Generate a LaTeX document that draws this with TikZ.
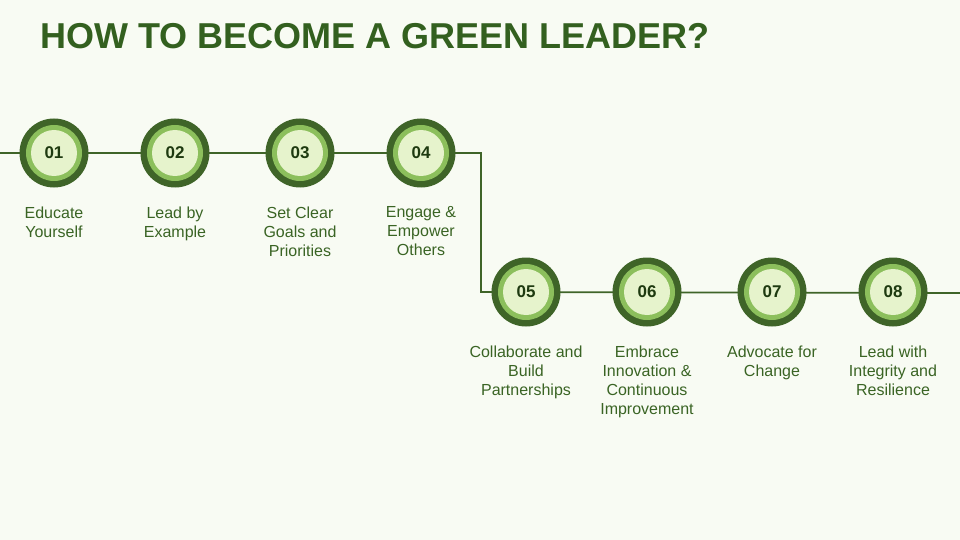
\documentclass[tikz,border=0pt]{standalone}
\usepackage{fontspec}
\setmainfont{Liberation Sans}
\begin{document}
\begin{tikzpicture}[x=1pt,y=-1pt,
  ring/.style={circle,fill=ringdark,minimum size=69pt,inner sep=0pt},
  mid/.style={circle,fill=ringmid,minimum size=56pt,inner sep=0pt},
  core/.style={circle,fill=ringcore,minimum size=46pt,inner sep=0pt,font=\fontsize{17}{17}\selectfont\bfseries,text=numcol},
  lbl/.style={align=center,anchor=north,font=\fontsize{16}{19}\selectfont,text=labcol},
  conn/.style={draw=ringdark,line width=1.8pt}]
\definecolor{ringdark}{HTML}{3F6428}
\definecolor{ringmid}{HTML}{8CBF5C}
\definecolor{ringcore}{HTML}{E6F3CC}
\definecolor{numcol}{HTML}{1E3A10}
\definecolor{labcol}{HTML}{3A6424}
\definecolor{titcol}{HTML}{33601F}
\definecolor{bg}{HTML}{F8FBF3}
\fill[bg] (0,0) rectangle (960,540);
\useasboundingbox (0,0) rectangle (960,540);
\node[anchor=west,text=titcol,font=\fontsize{36}{36}\selectfont\bfseries] (title) at (37,36) {HOW TO BECOME A GREEN LEADER?};
\coordinate (s) at (0,153);
\coordinate (b1) at (481,153);
\coordinate (b2) at (481,292);
\coordinate (e) at (960,293);
\draw[conn] (s) -- (b1) -- (b2) -- (e);
\foreach \n/\x/\y/\t in {01/54/153/{Educate\\Yourself},02/175/153/{Lead by\\Example},03/300/153/{Set Clear\\Goals and\\Priorities},04/421/153/{Engage \&\\Empower\\Others},05/526/292/{Collaborate and\\Build\\Partnerships},06/647/292/{Embrace\\Innovation \&\\Continuous\\Improvement},07/772/292/{Advocate for\\Change},08/893/292/{Lead with\\Integrity and\\Resilience}}{
  \node[ring] (r\n) at (\x,\y) {};
  \node[mid] (m\n) at (\x,\y) {};
  \node[core] (c\n) at (\x,\y) {\n};
  \node[lbl] (l\n) at (\x,\y+50) {\t};
}
\end{tikzpicture}
\end{document}
